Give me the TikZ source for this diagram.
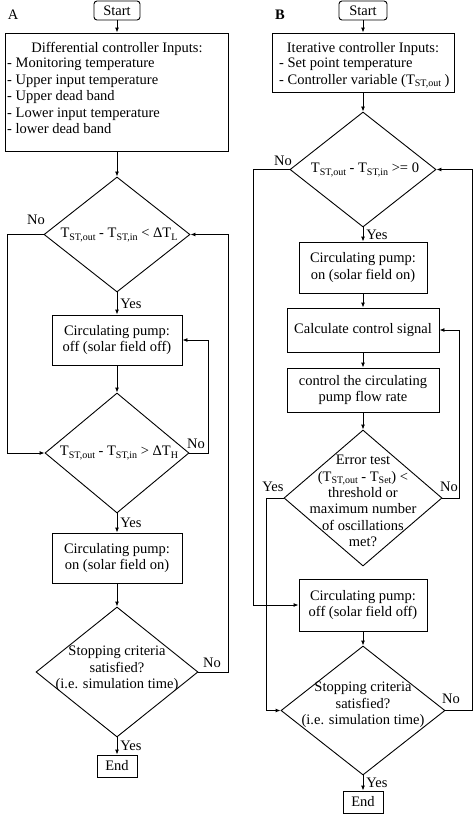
\documentclass[tikz,border=0pt]{standalone}
\usepackage{fontspec}
\setmainfont{Liberation Serif}
\usetikzlibrary{arrows.meta,shapes.geometric}
\newcommand\mysub[1]{\raisebox{-0.35ex}{\fontsize{10}{10}\selectfont #1}}
\begin{document}
\begin{tikzpicture}[x=1pt,y=-1pt,
  every node/.style={font=\fontsize{14.5}{16.4}\selectfont, inner sep=0pt},
  box/.style={draw, line width=0.9pt, rectangle, align=center},
  term/.style={box, rounded corners=3pt},
  dia/.style={draw, line width=0.9pt, diamond},
  conn/.style={line width=0.9pt, -{Latex[length=5pt,width=4pt]}},
  ylab/.style={anchor=west, xshift=3pt}
]
\useasboundingbox (0,0) rectangle (474,814);

% ---------------- Panel A ----------------
\node (labA) at (13,15) {A};
\node[term, minimum width=46pt, minimum height=19pt] (sA) at (117,10.5) {Start};
\node[box, minimum width=223pt, minimum height=118pt] (iA) at (117,92) {};
\node[anchor=base] (iAt) at (117,52) {Differential controller Inputs:};
\node[anchor=north west, align=left] (iAl) at (7,58) {- Monitoring temperature\\- Upper input temperature\\- Upper dead band\\- Lower input temperature\\- lower dead band};

\node[dia, minimum width=146pt, minimum height=115pt] (dA1) at (117,234.5) {};
\node (dA1t) at (119,235) {T\mysub{ST,out} - T\mysub{ST,in} < ΔT\mysub{L}};

\node[box, minimum width=130pt, minimum height=50pt] (oA) at (117,340) {Circulating pump:\\off (solar field off)};

\node[dia, minimum width=144pt, minimum height=120pt] (dA2) at (117,453) {};
\node (dA2t) at (119,453) {T\mysub{ST,out} - T\mysub{ST,in} > ΔT\mysub{H}};

\node[box, minimum width=130pt, minimum height=50pt] (nA) at (117,558) {Circulating pump:\\on (solar field on)};

\node[dia, minimum width=162pt, minimum height=130pt] (dA3) at (117,672) {};
\node[align=center] (dA3t) at (117,669) {Stopping criteria\\satisfied?\\(i.e. simulation time)};

\node[box, minimum width=40pt, minimum height=22pt] (eA) at (117,766) {End};

\draw[conn] (sA) -- (iA);
\draw[conn] (iA) -- (dA1);
\draw[conn] (dA1) -- node[ylab] (yA1) {Yes} (oA);
\draw[conn] (oA) -- (dA2);
\draw[conn] (dA2) -- node[ylab] (yA2) {Yes} (nA);
\draw[conn] (nA) -- (dA3);
\draw[conn] (dA3) -- node[ylab] (yA3) {Yes} (eA);
\draw[conn] (dA1.west) -- (7,234.5) |- (dA2.west);
\draw[conn] (dA2.east) -- (208,453) |- (oA.east);
\draw[conn] (dA3.east) -- (228,672) |- (dA1.east);
\node (nA1) at (36,220) {No};
\node (nA2) at (196,444) {No};
\node (nA3) at (212,663) {No};

% ---------------- Panel B ----------------
\node[font=\fontsize{14.5}{16.4}\selectfont\bfseries] (labB) at (280,15) {B};
\node[term, minimum width=48pt, minimum height=19pt] (sB) at (363,10.5) {Start};
\node[box, minimum width=182pt, minimum height=59pt] (iB) at (363,62.5) {};
\node[anchor=base] (iBt) at (363,52) {Iterative controller Inputs:};
\node[anchor=north west, align=left] (iBl) at (279,58) {- Set point temperature\\- Controller variable (T\mysub{ST,out} )};

\node[dia, minimum width=146pt, minimum height=115pt] (dB1) at (363,169.5) {};
\node (dB1t) at (365,170) {T\mysub{ST,out} - T\mysub{ST,in} >= 0};

\node[box, minimum width=128pt, minimum height=51pt] (oB) at (363,267.5) {Circulating pump:\\on (solar field on)};
\node[box, minimum width=152pt, minimum height=44pt] (cB) at (363,330) {Calculate control signal};
\node[box, minimum width=152pt, minimum height=44pt] (fB) at (363,390) {control the circulating\\pump flow rate};

\node[dia, minimum width=158pt, minimum height=136pt] (dB2) at (363,498) {};
\node[align=center] (dB2t) at (363,501) {Error test\\(T\mysub{ST,out} - T\mysub{Set}) <\\threshold or\\maximum number\\of oscillations\\met?};

\node[box, minimum width=128pt, minimum height=52pt] (fOB) at (363,605) {Circulating pump:\\off (solar field off)};

\node[dia, minimum width=164pt, minimum height=129pt] (dB3) at (363,710.5) {};
\node[align=center] (dB3t) at (363,705) {Stopping criteria\\satisfied?\\(i.e. simulation time)};

\node[box, minimum width=40pt, minimum height=22pt] (eB) at (363,802) {End};

\draw[conn] (sB) -- (iB);
\draw[conn] (iB) -- (dB1);
\draw[conn] (dB1) -- node[ylab] (yB1) {Yes} (oB);
\draw[conn] (oB) -- (cB);
\draw[conn] (cB) -- (fB);
\draw[conn] (fB) -- (dB2);
\draw[conn] (fOB) -- (dB3);
\draw[conn] (dB3) -- node[ylab] (yB3) {Yes} (eB);
\draw[conn] (dB2.east) -- (459,498) |- (cB.east);
\draw[conn] (dB2.west) -- (266,498) |- (dB3.west);
\draw[conn] (dB1.west) -- (253,169.5) |- (fOB.west);
\draw[conn] (dB3.east) -- (472,710.5) |- (dB1.east);
\node (nB1) at (283,161) {No};
\node (nB2) at (449,487) {No};
\node (yB2) at (273,487) {Yes};
\node (nB3) at (451,699) {No};
\end{tikzpicture}
\end{document}
